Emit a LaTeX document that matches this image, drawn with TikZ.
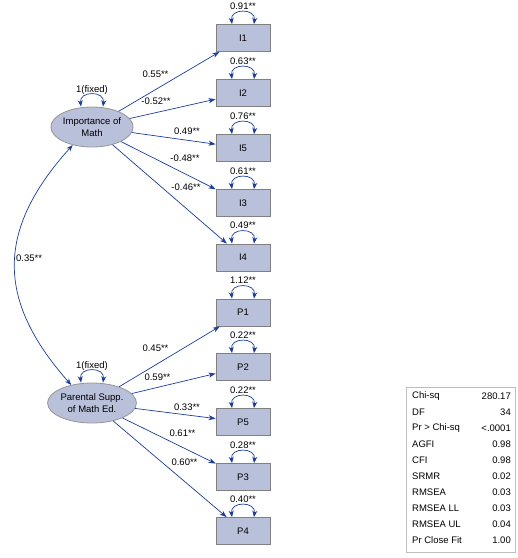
\documentclass[tikz,border=0pt]{standalone}
\usepackage{fontspec}
\setmainfont{Liberation Sans}
\usetikzlibrary{arrows.meta,shapes.geometric}
\definecolor{boxfill}{RGB}{184,192,218}
\definecolor{boxline}{RGB}{128,128,128}
\definecolor{ellline}{RGB}{150,150,150}
\definecolor{arr}{RGB}{25,60,165}
\definecolor{tabline}{RGB}{190,190,190}
\begin{document}
\begin{tikzpicture}[x=1pt,y=-1pt,
  font=\fontsize{9.5}{11}\selectfont,
  obs/.style={rectangle,draw=boxline,fill=boxfill,line width=0.8pt,minimum width=54pt,minimum height=27pt,inner sep=0pt},
  lat/.style={ellipse,draw=ellline,fill=boxfill,line width=0.8pt,minimum width=82pt,minimum height=40pt,inner sep=0pt,align=center,font=\fontsize{9.5}{12}\selectfont},
  conn/.style={draw=arr,line width=0.7pt,-{Stealth[length=7pt,width=5pt,inset=2pt]}},
  dbl/.style={draw=arr,line width=0.7pt,{Stealth[length=6.5pt,width=5pt,inset=2pt]}-{Stealth[length=6.5pt,width=5pt,inset=2pt]}},
  lbl/.style={inner sep=0pt},
  tl/.style={inner sep=0pt,anchor=west},
  tr/.style={inner sep=0pt,anchor=east}
]
\useasboundingbox (0,0) rectangle (518,558);

% latent variables
\node[lat] (IM) at (92,127) {Importance of\\Math};
\node[lat] (PS) at (92,403) {Parental Supp.\\of Math Ed.};

% observed variables
\node[obs] (I1) at (243,38) {I1};
\node[obs] (I2) at (243,93) {I2};
\node[obs] (I5) at (243,148) {I5};
\node[obs] (I3) at (243,203) {I3};
\node[obs] (I4) at (243,257.5) {I4};
\node[obs] (P1) at (243,312.5) {P1};
\node[obs] (P2) at (243,367) {P2};
\node[obs] (P5) at (243,422) {P5};
\node[obs] (P3) at (243,477) {P3};
\node[obs] (P4) at (243,531) {P4};

% loadings
\foreach \t in {I1,I2,I5,I3,I4}{\draw[conn] (IM) -- (\t);}
\foreach \t in {P1,P2,P5,P3,P4}{\draw[conn] (PS) -- (\t);}

% error variances (self loops)
\foreach \b/\v in {I1/0.91,I2/0.63,I5/0.76,I3/0.61,I4/0.49,P1/1.12,P2/0.22,P5/0.22,P3/0.28,P4/0.40}{
  \draw[dbl] ([xshift=-11pt]\b.north) .. controls +(-2,-16) and +(2,-16) .. ([xshift=11pt]\b.north);
  \node[lbl] (v\b) at ([yshift=18pt]\b.north) {\v**};
}

% latent variances
\draw[dbl] ([xshift=-11pt]IM.north) .. controls +(-2,-16) and +(2,-16) .. ([xshift=11pt]IM.north);
\node[lbl] (vIM) at ([yshift=17pt]IM.north) {1(fixed)};
\draw[dbl] ([xshift=-11pt]PS.north) .. controls +(-2,-16) and +(2,-16) .. ([xshift=11pt]PS.north);
\node[lbl] (vPS) at ([yshift=17pt]PS.north) {1(fixed)};

% covariance
\draw[dbl] (IM.223) .. controls (-4,230) and (-4,300) .. (PS.139);
\node[lbl,anchor=west] (cov) at (16,258.5) {0.35**};

% loading labels
\node[lbl] (lI1) at (155.5,74) {0.55**};
\node[lbl] (lI2) at (156,101) {-0.52**};
\node[lbl] (lI5) at (187,131) {0.49**};
\node[lbl] (lI3) at (185,158) {-0.48**};
\node[lbl] (lI4) at (186,187.5) {-0.46**};
\node[lbl] (lP1) at (155.5,348.5) {0.45**};
\node[lbl] (lP2) at (157.5,377) {0.59**};
\node[lbl] (lP5) at (187,407) {0.33**};
\node[lbl] (lP3) at (182.5,433) {0.61**};
\node[lbl] (lP4) at (184.5,462) {0.60**};

% fit table
\node[draw=tabline,line width=0.6pt,fill=white,minimum width=109pt,minimum height=165pt,inner sep=0pt] (fit) at (460.5,469.5) {};
\foreach \k/\a/\b in {0/Chi-sq/280.17,1/DF/34,2/Pr > Chi-sq/<.0001,3/AGFI/0.98,4/CFI/0.98,5/SRMR/0.02,6/RMSEA/0.03,7/RMSEA LL/0.03,8/RMSEA UL/0.04,9/Pr Close Fit/1.00}{
  \node[tl] (fa\k) at (412,396+16*\k) {\a};
  \node[tr] (fb\k) at (511,396+16*\k) {\b};
}
\end{tikzpicture}
\end{document}
